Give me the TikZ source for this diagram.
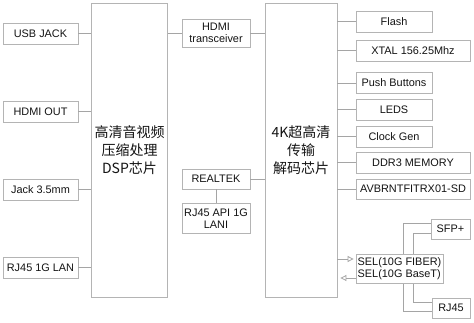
\documentclass[tikz,border=0pt]{standalone}
\usepackage{fontspec}
\setmainfont{Liberation Sans}
\newfontfamily\cjk{Noto Sans CJK SC}
\usetikzlibrary{arrows.meta, positioning, backgrounds, calc}
\definecolor{boxgray}{RGB}{180,180,180}
\definecolor{linegray}{RGB}{165,165,165}
\definecolor{textdark}{RGB}{20,20,20}

\begin{document}
\begin{tikzpicture}[
    x=1pt, y=-1pt,
    block/.style={rectangle, draw=boxgray, fill=white, line width=0.8pt, minimum width=#1, minimum height=21pt, inner sep=1pt, align=center, text=textdark, font=\fontsize{10.9}{12.5}\selectfont},
    block/.default=76pt,
    chip/.style={rectangle, draw=boxgray, fill=white, line width=0.8pt, minimum width=71pt, minimum height=294pt, align=center, text=textdark, font=\cjk\fontsize{14}{18}\selectfont},
    wire/.style={draw=linegray, line width=0.8pt},
    sig/.style={wire, -{Triangle[open, length=6pt, width=6pt]}}
]
\useasboundingbox (0,0) rectangle (474,323);

% Chips
\node[chip] (dsp) at (129.5,150) {高清音视频\\压缩处理\\DSP芯片};
\node[chip, minimum width=72pt] (dec) at (301,150) {4K超高清\\传输\\解码芯片};

% Left ports
\node[block=75pt] (usb) at (40.5,33.5) {USB JACK};
\node[block=75pt] (hdmiout) at (40.5,111.5) {HDMI OUT};
\node[block=75pt] (jack) at (40.5,189.5) {Jack 3.5mm};
\node[block=75pt] (lan) at (40.5,267.5) {RJ45 1G LAN};

% Middle
\node[block=68pt, minimum height=28pt] (hdmi) at (216,33) {HDMI\\transceiver};
\node[block=68pt, minimum height=20pt] (realtek) at (216,179) {REALTEK};
\node[block=68pt, minimum height=30pt, below=14pt of realtek] (rjapi) {RJ45 API 1G\\LANI};

% Right peripherals
\node[block] (flash) at (394,21.5) {Flash};
\node[block=114pt] (xtal) at (413,50.5) {XTAL 156.25Mhz};
\node[block] (push) at (394,83) {Push Buttons};
\node[block] (leds) at (394,109.5) {LEDS};
\node[block] (clk) at (394,136.5) {Clock Gen};
\node[block=114pt] (ddr) at (413,162.5) {DDR3 MEMORY};
\node[block=114pt, minimum height=20pt] (avb) at (413,189) {AVBRNTFITRX01-SD};

% Network select
\node[block=87pt, minimum height=29pt, align=left] (sel) at (399.5,268.5) {SEL(10G FIBER)\\SEL(10G BaseT)};
\node[block=39pt, minimum height=20pt] (sfp) at (450.5,229) {SFP+};
\node[block=38pt, minimum height=20pt] (rj) at (451,308) {RJ45};

% Connectors
\foreach \p in {usb, hdmiout, jack, lan}
    \draw[wire] (\p.east) -- (\p.east -| dsp.west);
\foreach \p in {flash, xtal, push, leds, clk, ddr, avb}
    \draw[wire] (\p.west) -- (\p.west -| dec.east);
\draw[wire] (hdmi.west) -- (hdmi.west -| dsp.east);
\draw[wire] (hdmi.east) -- (hdmi.east -| dec.west);
\draw[wire] (realtek.east) -- (realtek.east -| dec.west);
\draw[wire] (realtek) -- (rjapi);

% Select signals
\draw[sig] ([yshift=9.5pt]sel.west -| dec.east) -- ([yshift=9.5pt, xshift=-2pt]sel.west);
\draw[sig] ([yshift=-9.5pt]sel.west) -- ([yshift=-9.5pt, xshift=3pt]sel.west -| dec.east);

\begin{scope}[on background layer]
    \draw[wire] ([xshift=3.5pt]sel.north) |- ([yshift=6pt]sfp.west);
    \draw[wire] ([xshift=13.5pt]sel.north) |- ([yshift=-4pt]sfp.west);
    \draw[wire] ([xshift=3.5pt]sel.south) |- ([yshift=-3pt]rj.west);
    \draw[wire] ([xshift=13.5pt]sel.south) |- ([yshift=6pt]rj.west);
\end{scope}

\end{tikzpicture}
\end{document}
